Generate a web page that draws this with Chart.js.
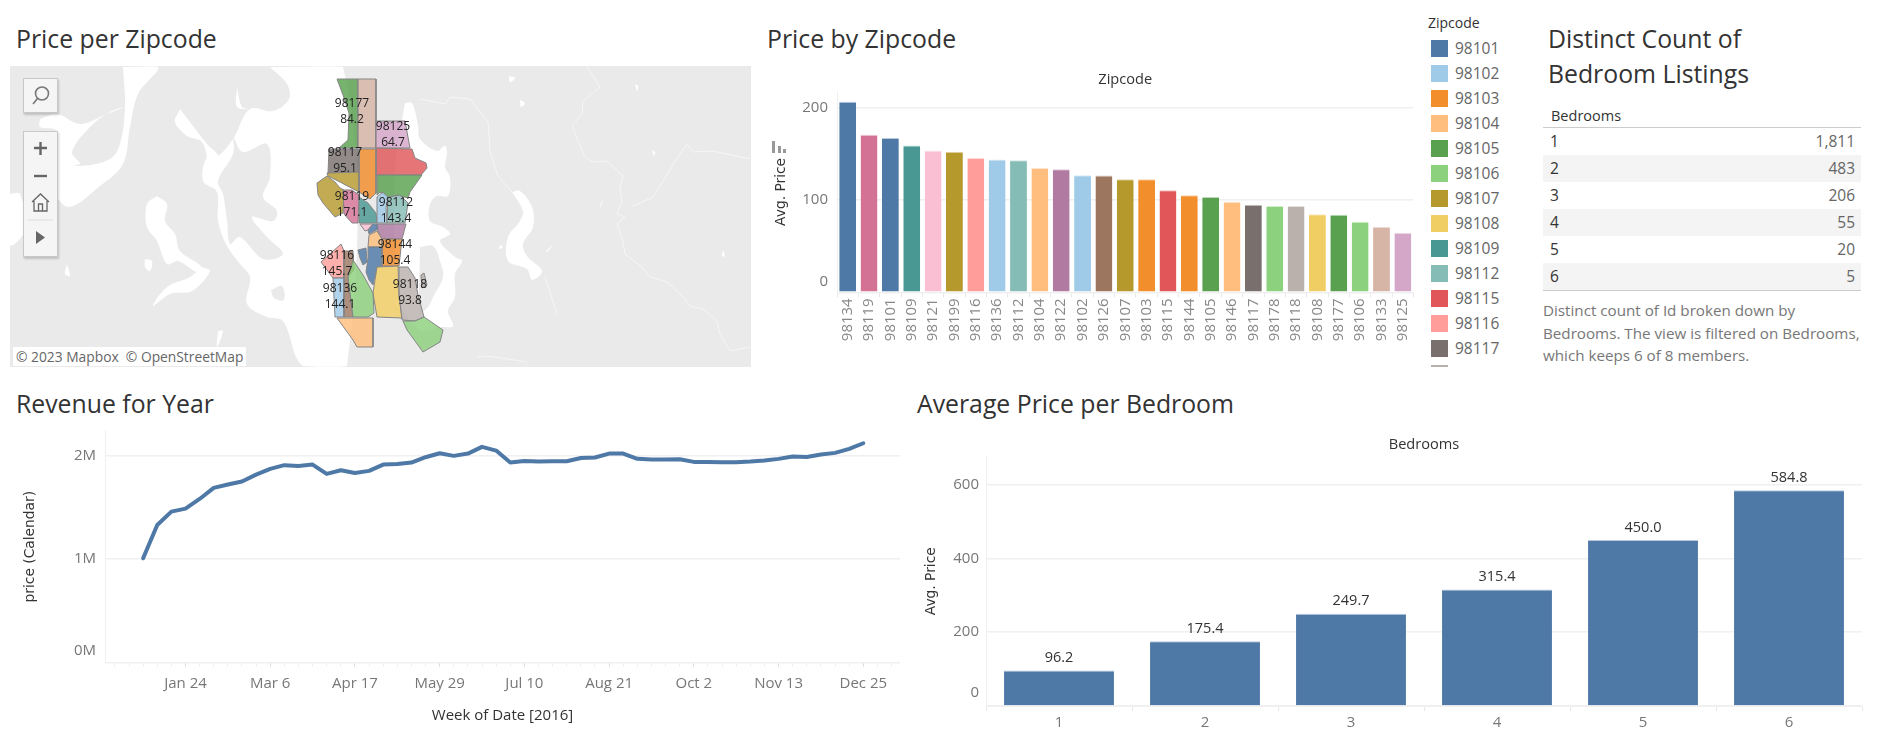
<!DOCTYPE html>
<html>
<head>
<meta charset="utf-8">
<title>Seattle listings dashboard</title>
<script src="https://cdn.jsdelivr.net/npm/chart.js@4"></script>
<style>
html,body{margin:0;padding:0;background:#fff;overflow:hidden;font-family:"Open Sans",sans-serif}
#page{position:relative;width:1880px;height:737px;overflow:hidden}
canvas{position:absolute;display:block}
.h{position:absolute;font-size:24.8px;line-height:30px;color:#333;white-space:nowrap}
.abs{position:absolute}
#legend{position:absolute;left:1428px;top:12px;width:90px;height:355px;overflow:hidden}
#legend .t{position:absolute;left:0;top:2px;font-size:14px;line-height:18px;color:#333}
#legend .s{position:absolute;left:3px;width:17px;height:17px}
#legend .l{position:absolute;left:27px;font-size:15.5px;line-height:17px;color:#666}
#table{position:absolute;left:1543px;top:127px;width:318px;border-top:1px solid #ccc;border-bottom:1px solid #ccc}
#table .r{position:relative;height:27px;line-height:27px;font-size:15.5px}
#table .r:nth-child(even){background:#f4f4f4}
#table .a{position:absolute;left:7px;color:#333}
#table .b{position:absolute;right:6px;color:#666}
#foot{position:absolute;left:1543px;top:299px;font-size:15.2px;line-height:22.5px;color:#777;white-space:nowrap}
.tool{position:absolute;left:23px;width:33px;background:#f5f5f5;border:1px solid #c8c8c8;box-shadow:1px 2px 2px rgba(0,0,0,.18)}
.tool svg{position:absolute;left:0;top:0}
#attr{position:absolute;left:13px;top:347px;height:19px;line-height:19px;padding:0 3px;background:#fff;font-size:13.8px;color:#666;white-space:nowrap}
#sort i{position:absolute;background:#999;display:block}
</style>
</head>
<body>
<div id="page">
  <div class="h" style="left:16px;top:23px">Price per Zipcode</div>
  <div class="h" style="left:767px;top:23px">Price by Zipcode</div>
  <div class="h" style="left:1548px;top:23px">Distinct Count of</div>
  <div class="h" style="left:1548px;top:58px">Bedroom Listings</div>
  <div class="h" style="left:16px;top:388px">Revenue for Year</div>
  <div class="h" style="left:917px;top:388px">Average Price per Bedroom</div>

  <canvas id="mapChart" style="left:10px;top:66px;width:741px;height:301px"></canvas>
  <div class="tool" style="top:78px;height:33px">
    <svg width="33" height="33" fill="none" stroke="#777" stroke-width="1.6"><circle cx="18" cy="14.5" r="6.5"/><path d="M13.5 19.5L9 25"/></svg>
  </div>
  <div class="tool" style="top:131px;height:124px">
    <svg width="33" height="124" fill="none" stroke="#666">
      <path d="M10 16h13M16.500 10v13" stroke-width="2.400"/>
      <path d="M10 44h13" stroke-width="2.400"/>
      <path d="M8 70l8.500-8 8.500 8M10 69v10h13V69M14.500 79v-7h4v7" stroke-width="1.300"/>
      <path d="M4 88h25" stroke="#ddd"/>
      <path d="M12 99l9 6.500-9 6.500z" fill="#666" stroke="none"/>
    </svg>
  </div>
  <div id="attr">© 2023 Mapbox&nbsp; © OpenStreetMap</div>

  <canvas id="zipChart" style="left:765px;top:60px;width:657px;height:307px"></canvas>
  <div id="sort" style="position:absolute;left:0;top:0">
    <i style="left:772px;top:141px;width:3px;height:12px"></i>
    <i style="left:778px;top:146px;width:3px;height:7px"></i>
    <i style="left:783px;top:149px;width:3px;height:4px"></i>
  </div>
  <div id="legend"></div>

  <div class="abs" style="left:1551px;top:107px;font-size:14.500px;line-height:18px;color:#333">Bedrooms</div>
  <div id="table"></div>
  <div id="foot">Distinct count of Id broken down by<br>Bedrooms. The view is filtered on Bedrooms,<br>which keeps 6 of 8 members.</div>

  <canvas id="lineChart" style="left:0;top:425px;width:900px;height:312px"></canvas>
  <canvas id="bedChart" style="left:900px;top:430px;width:980px;height:307px"></canvas>
</div>

<script>
// ---------- data ----------
const zipCodes = ["98134","98119","98101","98109","98121","98199","98116","98136","98112","98104","98122","98102","98126","98107","98103","98115","98144","98105","98146","98117","98178","98118","98108","98177","98106","98133","98125"];
const zipPrices = [207,171.1,167.5,159.5,154,152.5,145.7,144.1,143.4,135,133.5,127,126.8,122.8,122.8,110.8,105.4,103.6,98.2,95.1,93.8,93.8,84.8,84.2,76.5,71.3,64.7];
const zipTicks = [0,100,200];
const legendZips = ["98101","98102","98103","98104","98105","98106","98107","98108","98109","98112","98115","98116","98117","98118"];

const weekLabels = ["Jan 3","Jan 10","Jan 17","Jan 24","Jan 31","Feb 7","Feb 14","Feb 21","Feb 28","Mar 6","Mar 13","Mar 20","Mar 27","Apr 3","Apr 10","Apr 17","Apr 24","May 1","May 8","May 15","May 22","May 29","Jun 5","Jun 12","Jun 19","Jun 26","Jul 3","Jul 10","Jul 17","Jul 24","Jul 31","Aug 7","Aug 14","Aug 21","Aug 28","Sep 4","Sep 11","Sep 18","Sep 25","Oct 2","Oct 9","Oct 16","Oct 23","Oct 30","Nov 6","Nov 13","Nov 20","Nov 27","Dec 4","Dec 11","Dec 18","Dec 25"];
const labelledWeeks = ["Jan 24","Mar 6","Apr 17","May 29","Jul 10","Aug 21","Oct 2","Nov 13","Dec 25"];
const weekRevenue = [1008000,1330000,1459000,1488000,1581000,1688000,1720000,1749000,1816000,1871000,1907000,1900000,1913000,1823000,1858000,1832000,1852000,1913000,1919000,1932000,1984000,2022000,1997000,2019000,2084000,2048000,1932000,1948000,1942000,1945000,1945000,1977000,1981000,2019000,2019000,1968000,1961000,1961000,1965000,1939000,1939000,1936000,1936000,1942000,1952000,1968000,1990000,1987000,2010000,2026000,2064000,2119000];
const revenueTicks = [0,1000000,2000000];

const bedrooms = ["1","2","3","4","5","6"];
const bedroomPrices = [96.2,175.4,249.7,315.4,450.0,584.8];
const bedroomTicks = [0,200,400,600];
const bedroomCounts = ["1,811","483","206","55","20","5"];

const mapLabels = [
  ["98177","84.2",352,104],["98125","64.7",393,127],["98117","95.1",345,153],["98119","171.1",352,197],
  ["98112","143.4",396,203],["98144","105.4",395,245],["98116","145.7",337,256],["98136","144.1",340,289],["98118","93.8",410,285]
];

// map geometry, in map-grid units
const waterAreas = [
  [[270,67],[343,67],[347,366],[303,366],[283,321],[267,317],[247,304],[250,277],[240,264],[227,246],[218,221],[217,192],[203,181],[207,157],[218,156],[233,139],[250,109],[273,111],[289,99],[287,84]],
  [[180,109],[175,122],[187,136],[202,142],[210,164],[218,156],[207,144]],
  [[237,87],[242,107],[250,109],[237,107]],
  [[123,67],[158,67],[138,94],[130,127],[123,164],[100,186],[70,207],[57,196],[57,161],[78,166],[110,159],[120,144],[125,107]],
  [[40,119],[57,114],[80,124],[107,114],[125,107],[110,112],[90,127],[72,152],[80,164],[57,161],[57,131],[40,127]],
  [[10,194],[20,194],[25,230],[10,245]],
  [[157,196],[167,204],[165,221],[175,234],[180,251],[202,267],[197,272],[178,261],[167,264],[157,241],[147,227],[147,204]],
  [[202,267],[210,271],[192,291],[170,294],[153,306],[167,287],[190,277]],
  [[145,259],[152,261],[150,271],[145,267]],
  [[67,264],[70,276],[65,274]],
  [[218,331],[223,331],[217,347]],
  [[405,103],[412,103],[418,125],[420,139],[437,151],[445,146],[447,154],[445,167],[450,177],[448,196],[437,196],[430,204],[430,221],[443,227],[450,234],[440,241],[455,257],[462,261],[455,274],[455,297],[448,311],[453,326],[442,327],[420,330],[400,300],[395,170]],
  [[512,192],[520,191],[532,207],[533,227],[523,244],[527,256],[542,271],[532,280],[527,269],[508,261],[508,237],[520,221],[523,211]],
  [[509,76],[515,78],[510,82]],[[520,100],[525,103],[521,107]],[[635,84],[638,86],[637,91]],[[652,150],[655,152],[654,156]],[[601,203],[603,200],[600,208]],[[723,250],[725,256],[722,256]],[[500,245],[503,247],[499,249]],[[549,250],[552,245],[545,253]]
];
const landAreas = [
  [[233,136],[243,152],[267,144],[270,177],[263,197],[277,211],[273,221],[252,217],[267,237],[283,254],[263,259],[240,237],[230,244],[227,221],[223,194],[218,181],[233,154]],
  [[420,247],[433,246],[440,261],[443,277],[433,297],[428,307],[420,312]],
  [[271,290],[282,286],[284,300],[274,298]]
];
const riverLines = [
  [[587,67],[600,87],[583,101],[582,114],[572,126],[578,141],[585,157],[593,162],[607,161],[623,176],[620,187],[622,201],[617,214],[625,217],[617,224],[623,241],[625,254],[642,267],[650,277],[667,282],[683,297],[690,306],[703,309],[717,321],[720,334],[730,351],[750,347]],
  [[420,99],[445,104],[450,97],[470,99],[488,122],[490,151],[498,176],[512,192]],
  [[545,277],[557,314]],
  [[477,357],[487,356],[527,362]],
  [[633,206],[653,197],[680,154],[687,144],[693,152],[713,151],[750,159]]
];
const zipAreas = [
  ["98177",[[337,79],[358,79],[358,148],[339,148],[348,140],[349,113],[343,95]]],
  ["98133",[[358,79],[376,79],[376,148],[358,148]]],
  ["98125",[[376,121],[405,121],[410,148],[376,148]]],
  ["98115",[[376,148],[412,149],[415,158],[426,163],[427,168],[421,175],[376,175]]],
  ["98103",[[359,149],[376,149],[376,193],[370,199],[359,192]]],
  ["98117",[[329,149],[359,149],[359,172],[328,173]]],
  ["98107",[[327,173],[359,172],[359,192],[340,182],[328,176]]],
  ["98199",[[317,183],[327,176],[335,182],[340,188],[344,190],[343,213],[335,217],[323,203],[318,195]]],
  ["98105",[[377,175],[422,175],[415,185],[410,192],[408,198],[397,195],[388,198],[380,192],[377,195]]],
  ["98119",[[343,190],[352,190],[359,195],[358,223],[352,223],[344,214]]],
  ["98109",[[359,197],[368,203],[376,213],[377,223],[359,223]]],
  ["98102",[[377,197],[383,192],[388,197],[386,208],[387,223],[377,223]]],
  ["98112",[[388,197],[400,195],[408,203],[405,223],[387,223]]],
  ["98122",[[377,224],[406,224],[402,239],[382,239],[377,229]]],
  ["98121",[[360,224],[373,224],[368,230],[365,231]]],
  ["98101",[[373,224],[377,224],[378,229],[369,234],[368,230]]],
  ["98104",[[369,235],[377,231],[382,239],[382,247],[368,247]]],
  ["98144",[[382,239],[402,239],[399,266],[382,266]]],
  ["98134",[[368,247],[382,247],[382,266],[377,267],[373,285],[369,280],[366,272],[368,258]]],
  ["98134",[[358,250],[366,248],[367,262],[363,265],[360,258]]],
  ["98108",[[377,267],[398,266],[399,295],[402,318],[377,317],[373,293]]],
  ["98118",[[399,267],[408,267],[415,278],[418,295],[424,317],[415,321],[402,320],[399,295]]],
  ["98118",[[421,275],[424,273],[427,285],[422,288]]],
  ["98178",[[403,321],[415,321],[424,317],[443,330],[440,342],[423,352],[407,330]]],
  ["98116",[[341,244],[344,251],[344,278],[333,278],[321,262]]],
  ["98126",[[344,251],[353,251],[354,270],[348,277],[353,317],[344,317]]],
  ["98136",[[333,278],[344,278],[344,317],[335,317]]],
  ["98106",[[353,260],[363,275],[373,293],[374,313],[368,317],[353,317],[348,277]]],
  ["98146",[[337,318],[373,318],[373,347],[357,347],[353,340]]]
];

// ---------- style ----------
const zipColors = {"98101":"#4e79a7","98102":"#a0cbe8","98103":"#f28e2b","98104":"#ffbe7d","98105":"#59a14f","98106":"#8cd17d","98107":"#b6992d","98108":"#f1ce63","98109":"#499894","98112":"#86bcb6","98115":"#e15759","98116":"#ff9d9a","98117":"#79706e","98118":"#bab0ac","98119":"#d37295","98121":"#fabfd2","98122":"#b07aa1","98125":"#d4a6c8","98126":"#9d7660","98133":"#d7b5a6","98134":"#4e79a7","98136":"#a0cbe8","98144":"#f28e2b","98146":"#ffbe7d","98177":"#59a14f","98178":"#8cd17d","98199":"#b6992d"};
const GRID = "#f0f0f0", AXIS = "#e8e8e8", TICK = "#777", DARK = "#333", LAND = "#eaeaea";
const SANS = "'Open Sans',sans-serif", WIDE = "'DejaVu Sans',sans-serif";
const hexToRgba = (h,a)=>{const n=parseInt(h.slice(1),16);return `rgba(${n>>16},${(n>>8)&255},${n&255},${a})`;};
const tint = (h,t)=>{const n=parseInt(h.slice(1),16);const m=c=>Math.round(c+(255-c)*t);return `rgb(${m(n>>16)},${m((n>>8)&255)},${m(n&255)})`;};
const toPts = a=>a.concat([a[0]]).map(p=>({x:p[0],y:p[1]}));

Chart.defaults.animation = false;
Chart.defaults.responsive = false;
Chart.defaults.plugins.legend.display = false;
Chart.defaults.plugins.tooltip.enabled = false;
Chart.defaults.font.family = SANS;

function sizeCanvas(id){
  const c=document.getElementById(id);
  c.width=parseInt(c.style.width); c.height=parseInt(c.style.height);
  return c;
}
// Lifts the zero label of a value axis above the baseline
const liftZero = lift => ({
  id:'liftZero',
  beforeDraw(chart){
    const items = chart.scales.y.getLabelItems();
    items.forEach(it=>{ if(it.label==='0'||it.label==='0M') it.options.translation[1]-=lift; });
  }
});

// ---------- map ----------
function polygonSet(list,fillFor,strokeFor,startOrder,curve){
  return list.map((a,i)=>({data:toPts(a.pts||a),showLine:true,fill:'shape',backgroundColor:fillFor(a),borderColor:strokeFor(a),
    borderWidth:a.pts?1:0,pointRadius:0,tension:curve,order:startOrder-i}));
}
const mapDatasets = []
  .concat(polygonSet(waterAreas,()=>'#ffffff',()=>'#ffffff',0,.35))
  .concat(polygonSet(landAreas,()=>LAND,()=>LAND,-100,.35))
  .concat(riverLines.map(r=>({data:r.map(p=>({x:p[0],y:p[1]})),showLine:true,fill:false,borderColor:'#f6f6f6',borderWidth:1,pointRadius:0,tension:0,order:-150})))
  .concat(polygonSet(zipAreas.map(z=>({zip:z[0],pts:z[1]})),z=>hexToRgba(zipColors[z.zip],.82),()=>'#858585',-200,0));

new Chart(sizeCanvas('mapChart'),{
  type:'scatter',
  data:{datasets:mapDatasets},
  options:{
    layout:{padding:0},
    scales:{
      x:{type:'linear',display:false,min:10,max:751},
      y:{type:'linear',display:false,min:66,max:367,reverse:true}
    }
  },
  plugins:[{
    id:'mapBackground',
    beforeDraw(chart){const c=chart.ctx;c.save();c.fillStyle=LAND;c.fillRect(0,0,chart.width,chart.height);c.restore();}
  },{
    id:'mapText',
    afterDatasetsDraw(chart){
      const c=chart.ctx,{x,y}=chart.scales;
      c.save();c.font="12px "+SANS;c.fillStyle='#222';c.textAlign='center';c.textBaseline='middle';
      mapLabels.forEach(m=>{
        c.fillText(m[0],x.getPixelForValue(m[2]),y.getPixelForValue(m[3]));
        c.fillText(m[1],x.getPixelForValue(m[2]),y.getPixelForValue(m[3]+16));
      });
      c.restore();
    }
  }]
});

// ---------- price by zipcode ----------
new Chart(sizeCanvas('zipChart'),{
  type:'bar',
  data:{labels:zipCodes,datasets:[{
    data:zipPrices,
    backgroundColor:zipCodes.map(z=>zipColors[z]),
    borderColor:zipCodes.map(z=>tint(zipColors[z],.6)),
    borderWidth:{top:1,left:0,right:0,bottom:0},
    barPercentage:.79,categoryPercentage:1
  }]},
  options:{
    layout:{padding:{right:2}},
    plugins:{title:{display:true,text:'Zipcode',color:DARK,font:{size:14.6,weight:'normal'},padding:{top:11,bottom:3},fullSize:false}},
    scales:{
      x:{
        afterFit:s=>{s.height=74.7;},
        grid:{offset:true,drawOnChartArea:false,color:AXIS,tickLength:5},
        border:{color:GRID},
        ticks:{color:'#888',font:{size:15},minRotation:90,maxRotation:90,autoSkip:false,padding:1}
      },
      y:{
        min:0,max:218,
        afterFit:s=>{s.width=72;},
        afterBuildTicks:s=>{s.ticks=zipTicks.map(v=>({value:v}));},
        grid:{color:GRID,lineWidth:1.5,tickLength:0},
        border:{color:GRID},
        ticks:{color:TICK,font:{size:15},padding:9},
        title:{display:true,text:'Avg. Price',color:DARK,font:{family:WIDE,size:13.8},padding:{top:8,bottom:0}}
      }
    }
  },
  plugins:[liftZero(11)]
});

// ---------- revenue ----------
new Chart(sizeCanvas('lineChart'),{
  type:'line',
  data:{labels:weekLabels,datasets:[{
    data:weekRevenue.map((v,i)=>({x:i,y:v})),
    borderColor:'#4e79a7',borderWidth:4,pointRadius:0,tension:0,fill:false,borderCapStyle:'round',borderJoinStyle:'round'
  }]},
  options:{
    layout:{padding:{top:5.7}},
    scales:{
      x:{
        type:'linear',min:-2.7,max:53.6,
        afterFit:s=>{s.height=74.3;},
        grid:{drawOnChartArea:false,tickColor:c=>labelledWeeks.includes(weekLabels[c.tick&&c.tick.value])?'#dddddd':'#f0f0f0',tickLength:4},
        border:{color:GRID},
        ticks:{
          stepSize:1,includeBounds:false,autoSkip:false,maxRotation:0,color:TICK,font:{size:15},padding:8,
          callback:v=>{const w=weekLabels[v];return labelledWeeks.includes(w)?w:'';}
        },
        title:{display:true,text:'Week of Date [2016]',color:DARK,font:{size:15},padding:{top:4,bottom:12}}
      },
      y:{
        min:0,max:2240000,
        afterFit:s=>{s.width=105;s.paddingTop=0;s.paddingBottom=0;},
        afterBuildTicks:s=>{s.ticks=revenueTicks.map(v=>({value:v}));},
        grid:{color:GRID,lineWidth:1.5,tickLength:0},
        border:{color:GRID},
        ticks:{color:TICK,font:{size:15},padding:9,callback:v=>(v/1000000)+'M'},
        title:{display:true,text:'price (Calendar)',color:DARK,font:{family:WIDE,size:13.8},padding:{top:22,bottom:0}}
      }
    }
  },
  plugins:[liftZero(12)]
});

// ---------- average price per bedroom ----------
new Chart(sizeCanvas('bedChart'),{
  type:'bar',
  data:{labels:bedrooms,datasets:[{
    data:bedroomPrices,backgroundColor:'#4e79a7',borderColor:tint('#4e79a7',.6),
    borderWidth:{top:1,left:0,right:0,bottom:0},
    barPercentage:.753,categoryPercentage:1
  }]},
  options:{
    layout:{padding:{right:18}},
    plugins:{title:{display:true,text:'Bedrooms',color:DARK,font:{size:14.6,weight:'normal'},padding:{top:6,bottom:3},fullSize:false}},
    scales:{
      x:{
        afterFit:s=>{s.height=31;},
        grid:{offset:true,drawOnChartArea:false,color:AXIS,tickLength:5},
        border:{color:GRID},
        ticks:{color:TICK,font:{size:15},padding:3}
      },
      y:{
        min:0,max:676,
        afterFit:s=>{s.width=86;},
        afterBuildTicks:s=>{s.ticks=bedroomTicks.map(v=>({value:v}));},
        grid:{color:GRID,lineWidth:1.5,tickLength:0},
        border:{color:GRID},
        ticks:{color:TICK,font:{size:15},padding:7},
        title:{display:true,text:'Avg. Price',color:DARK,font:{family:WIDE,size:13.8},padding:{top:23,bottom:0}}
      }
    }
  },
  plugins:[liftZero(13),{
    id:'barValues',
    afterDatasetsDraw(chart){
      const c=chart.ctx;c.save();c.font="14.5px "+SANS;c.fillStyle=DARK;c.textAlign='center';c.textBaseline='middle';
      chart.getDatasetMeta(0).data.forEach((b,i)=>c.fillText(bedroomPrices[i].toFixed(1),b.x,b.y-12.5));
      c.restore();
    }
  }]
});

// ---------- legend and table ----------
const legendEl=document.getElementById('legend');
legendEl.innerHTML='<div class="t">Zipcode</div>'+legendZips.map((z,i)=>{
  const top=28+25*i;
  return `<div class="s" style="top:${top}px;background:${zipColors[z]}"></div><div class="l" style="top:${top}px">${z}</div>`;
}).join('');
document.getElementById('table').innerHTML=bedrooms.map((b,i)=>
  `<div class="r"><span class="a">${b}</span><span class="b">${bedroomCounts[i]}</span></div>`).join('');
</script>
</body>
</html>
